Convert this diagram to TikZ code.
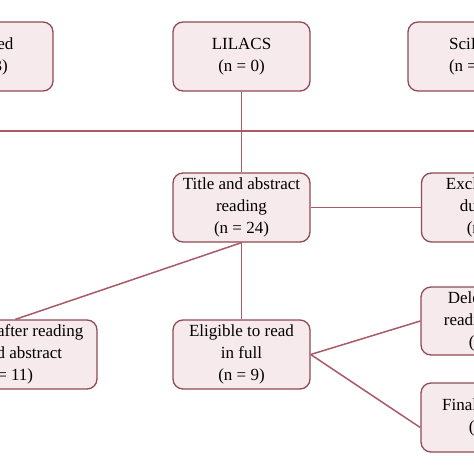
\documentclass[tikz,border=0pt]{standalone}
\usepackage{fontspec}
\setmainfont{Liberation Serif}
\definecolor{boxline}{HTML}{8E4A55}
\definecolor{boxfill}{HTML}{F7EAEC}
\definecolor{linkline}{HTML}{A85A66}
\tikzset{
  box/.style={draw=boxline, fill=boxfill, line width=1.3pt, rounded corners=10pt,
    minimum width=137pt, minimum height=69pt, inner sep=0pt, align=center,
    font=\fontsize{17}{22}\selectfont},
  link/.style={draw=linkline, line width=1.5pt}
}
\begin{document}
\begin{tikzpicture}[x=1pt,y=-1pt]
      \useasboundingbox (0,0) rectangle (474,474);
      \clip (0,0) rectangle (474,474);
      \draw
        (-15.5,56.5) node[box] (pubmed){PubMed\\(n = 3)}
        (241.5,56.5) node[box] (lilacs){LILACS\\(n = 0)}
        (476.5,56.5) node[box] (scielo){SciELO\\(n = 21)}
        (241.5,207.5) node[box] (title){Title and abstract\\reading\\(n = 24)}
        (490,207.5) node[box] (dupl){Excluded for\\duplicity\\(n = 0)}
        (6,354.5) node[box, minimum width=182pt] (exclA){Excluded after reading\\title and abstract\\(n = 11)}
        (241.5,354.5) node[box] (eligible){Eligible to read\\in full\\(n = 9)}
        (492,321) node[box, minimum width=142pt, minimum height=68pt] (deleted){Deleted after\\reading in full\\(n = 0)}
        (492,417.5) node[box, minimum width=142pt] (final){Final selection\\(n = 9)};
      \coordinate (busL) at (pubmed.south |- 0,131);
      \coordinate (busR) at (scielo.south |- 0,131);
      \begin{scope}[link]
        \draw[link] (pubmed) to (busL);
        \draw[link] (busL) to (busR);
        \draw[link] (scielo) to (busR);
        \draw[link] (lilacs) to (title);
        \draw[link] (title) to (dupl);
        \draw[link] (title.south) to (exclA.75);
        \draw[link] (title.south) to (eligible);
        \draw[link] (eligible.east) to (deleted.west);
        \draw[link] (eligible.east) to (final.188);
      \end{scope}
    \end{tikzpicture}
\end{document}
